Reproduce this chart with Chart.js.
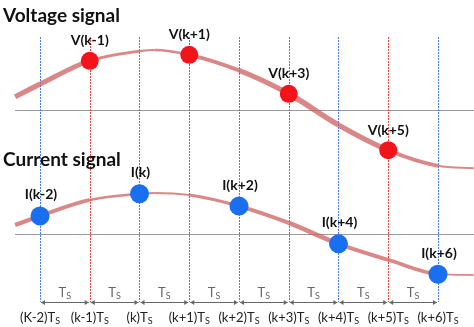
<!DOCTYPE html>
<html>
<head>
<meta charset="utf-8">
<script src="https://cdn.jsdelivr.net/npm/chart.js@4"></script>
<style>
    body { margin: 0; background: #fff; }
    #wrap { width: 474px; height: 327px; position: relative; }
</style>
</head>
<body>
<div id="wrap"><canvas id="myChart" width="474" height="327"></canvas></div>
<script>
// sample instants, in units of Ts relative to k
const sampleTimes = [-2, -1, 0, 1, 2, 3, 4, 5, 6];
const tickNames = ['(K-2)', '(k-1)', '(k)', '(k+1)', '(k+2)', '(k+3)', '(k+4)', '(k+5)', '(k+6)'];

// voltage is sampled at odd instants, current at even ones
const vTimes = [-1, 1, 3, 5];
const vSamples = [0.82, 0.92, 0.27, -0.67];
const vLabels = ['V(k-1)', 'V(k+1)', 'V(k+3)', 'V(k+5)'];

const iTimes = [-2, 0, 2, 4, 6];
const iSamples = [0.44, 0.98, 0.68, -0.24, -0.98];
const iLabels = ['I(k-2)', 'I(k)', 'I(k+2)', 'I(k+4)', 'I(k+6)'];

// continuous waveforms
const curveTimes = [-2.5, -2, -1, 0, 0.3, 1, 2, 3, 4, 5, 6, 6.72];
const vCurve = [0.22, 0.43, 0.82, 0.98, 1.0, 0.92, 0.66, 0.27, -0.25, -0.67, -0.93, -0.97];
const iCurve = [0.22, 0.44, 0.83, 0.98, 1.0, 0.95, 0.68, 0.27, -0.24, -0.63, -0.98, -1.0];

const pairs = (xs, ys) => xs.map((x, i) => ({x: x, y: ys[i]}));

// pen-like stroke: thicker where the curve is steep
const penWidth = c => {
    const s = Math.abs(c.p1.y - c.p0.y) / Math.max(1, Math.abs(c.p1.x - c.p0.x));
    return Math.min(5.5, 1.6 + 7 * s);
};

const curveStyle = {
    type: 'line',
    borderColor: 'rgba(205, 95, 95, 0.75)',
    borderWidth: 4,
    pointRadius: 0,
    cubicInterpolationMode: 'monotone',
    segment: { borderWidth: penWidth },
    clip: false
};

const overlay = {
    id: 'overlay',
    beforeDatasetsDraw(chart) {
        const ctx = chart.ctx;
        const x = chart.scales.x, yV = chart.scales.yV, yI = chart.scales.yI;
        const top = 37, bottom = 302;
        ctx.save();
        // zero lines
        ctx.strokeStyle = '#999';
        ctx.lineWidth = 1.2;
        [yV.getPixelForValue(0), yI.getPixelForValue(0)].forEach(py => {
            ctx.beginPath();
            ctx.moveTo(15, Math.round(py) + 0.5);
            ctx.lineTo(chart.width, Math.round(py) + 0.5);
            ctx.stroke();
        });
        // sampling instants
        ctx.lineWidth = 1;
        ctx.setLineDash([2, 1]);
        sampleTimes.forEach(t => {
            const px = Math.round(x.getPixelForValue(t)) + 0.5;
            ctx.strokeStyle = vTimes.includes(t) ? 'rgb(235, 70, 70)' : 'rgb(70, 125, 240)';
            ctx.beginPath();
            ctx.moveTo(px, top);
            ctx.lineTo(px, bottom);
            ctx.stroke();
        });
        ctx.setLineDash([]);
        ctx.restore();
    },
    afterDraw(chart) {
        const ctx = chart.ctx;
        const x = chart.scales.x, yV = chart.scales.yV, yI = chart.scales.yI;
        ctx.save();
        ctx.fillStyle = '#111';
        ctx.textBaseline = 'middle';
        ctx.textAlign = 'left';
        ctx.font = 'bold 19px Lato';
        ctx.fillText('Voltage signal', 3, 16);
        ctx.fillText('Current signal', 3, 160);

        ctx.textAlign = 'center';
        ctx.font = 'bold 14px Lato';
        vTimes.forEach((t, i) => ctx.fillText(vLabels[i], x.getPixelForValue(t), yV.getPixelForValue(vSamples[i]) - 20));
        iTimes.forEach((t, i) => ctx.fillText(iLabels[i], x.getPixelForValue(t) + 1, yI.getPixelForValue(iSamples[i]) - 21));

        // Ts spans with double arrows
        const ay = 302.5;
        ctx.strokeStyle = '#666';
        ctx.fillStyle = '#666';
        ctx.lineWidth = 1;
        for (let i = 0; i < sampleTimes.length - 1; i++) {
            const a = x.getPixelForValue(sampleTimes[i]) + 1;
            const b = x.getPixelForValue(sampleTimes[i + 1]) - 1;
            ctx.beginPath();
            ctx.moveTo(a, ay); ctx.lineTo(b, ay); ctx.stroke();
            ctx.beginPath();
            ctx.moveTo(a, ay); ctx.lineTo(a + 4, ay - 2.5); ctx.lineTo(a + 4, ay + 2.5); ctx.closePath();
            ctx.moveTo(b, ay); ctx.lineTo(b - 4, ay - 2.5); ctx.lineTo(b - 4, ay + 2.5); ctx.closePath();
            ctx.fill();
            drawTs(ctx, '', (a + b) / 2, 293);
        }
        // tick labels
        ctx.fillStyle = '#222';
        sampleTimes.forEach((t, i) => drawTs(ctx, tickNames[i], x.getPixelForValue(t), 318));
        ctx.restore();
    }
};

function drawTs(ctx, prefix, cx, cy) {
    ctx.save();
    ctx.textAlign = 'left';
    ctx.textBaseline = 'middle';
    ctx.font = '13px Lato';
    const main = prefix + 'T';
    const w1 = ctx.measureText(main).width;
    ctx.font = '9px Lato';
    const w2 = ctx.measureText('S').width;
    const left = cx - (w1 + w2) / 2;
    ctx.font = '13px Lato';
    ctx.fillText(main, left, cy);
    ctx.font = '9px Lato';
    ctx.fillText('S', left + w1, cy + 3);
    ctx.restore();
}

const ctx = document.getElementById('myChart').getContext('2d');
new Chart(ctx, {
    type: 'line',
    data: {
        datasets: [
            {
                type: 'scatter',
                data: pairs(vTimes, vSamples),
                yAxisID: 'yV',
                pointRadius: 9,
                pointBackgroundColor: '#f2141a',
                pointBorderWidth: 0,
                showLine: false,
                clip: false
            },
            {
                type: 'scatter',
                data: pairs(iTimes, iSamples),
                yAxisID: 'yI',
                pointRadius: 9.5,
                pointBackgroundColor: '#1a6ef0',
                pointBorderWidth: 0,
                showLine: false,
                clip: false
            },
            Object.assign({ data: pairs(curveTimes, vCurve), yAxisID: 'yV' }, curveStyle),
            Object.assign({ data: pairs(curveTimes, iCurve), yAxisID: 'yI' }, curveStyle)
        ]
    },
    options: {
        responsive: false,
        animation: false,
        layout: { padding: 0, autoPadding: false },
        scales: {
            x: { type: 'linear', display: false, min: -2.804, max: 6.724 },
            yV: { type: 'linear', display: false, min: -3.617, max: 1.833 },
            yI: { type: 'linear', display: false, min: -2.268, max: 5.707 }
        },
        plugins: {
            legend: { display: false },
            tooltip: { enabled: false }
        }
    },
    plugins: [overlay]
});
</script>
</body>
</html>
